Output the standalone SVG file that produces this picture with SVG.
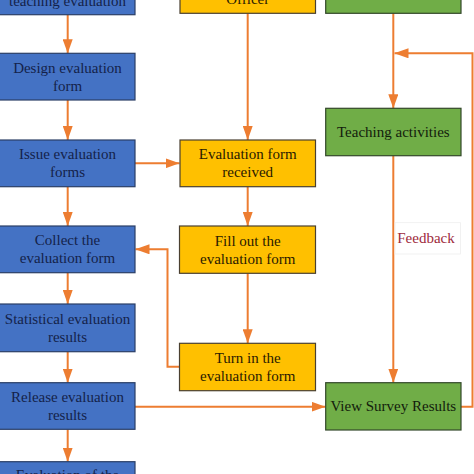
<svg xmlns="http://www.w3.org/2000/svg" width="474" height="474" viewBox="0 0 474 474">
<style>
.blue{fill:#4472C4;stroke:#2B3F66;stroke-width:1.2}
.yel{fill:#FFC000;stroke:#4A4030;stroke-width:1.2}
.grn{fill:#70AD47;stroke:#33482A;stroke-width:1.2}
text{font-family:"Liberation Serif","Times New Roman",serif;font-size:15px;text-anchor:middle}
.tb{fill:#14224A}
.ty{fill:#2A1A00}
.tg{fill:#13200C}
.fb{fill:#9E2A3C}
.c{fill:none;stroke:#ED7D31;stroke-width:2}
</style>
<defs>
<marker id="ah" viewBox="0 0 14 10" refX="14" refY="5" markerWidth="14" markerHeight="10" markerUnits="userSpaceOnUse" orient="auto">
<path d="M0,0 L14,5 L0,10 z" fill="#ED7D31"/>
</marker>
</defs>
<rect x="0" y="0" width="474" height="474" fill="#ffffff"/>
<g id="connectors">
<path class="c" marker-end="url(#ah)" d="M67.7,14.7 V53.3"/>
<path class="c" marker-end="url(#ah)" d="M67.7,100 V140"/>
<path class="c" marker-end="url(#ah)" d="M67.7,186.7 V226"/>
<path class="c" marker-end="url(#ah)" d="M67.7,272.7 V304"/>
<path class="c" marker-end="url(#ah)" d="M67.7,351.7 V382.7"/>
<path class="c" marker-end="url(#ah)" d="M67.7,429.3 V461.7"/>
<path class="c" marker-end="url(#ah)" d="M135,163.3 H179.5"/>
<path class="c" marker-end="url(#ah)" d="M247.7,13.3 V140"/>
<path class="c" marker-end="url(#ah)" d="M247.7,186.7 V226"/>
<path class="c" marker-end="url(#ah)" d="M247.7,273.3 V343.3"/>
<path class="c" marker-end="url(#ah)" d="M180,366.7 H167.5 V249.3 H135.5"/>
<path class="c" marker-end="url(#ah)" d="M135,406.7 H325.5"/>
<path class="c" marker-end="url(#ah)" d="M393.3,13.3 V108.3"/>
<path class="c" marker-end="url(#ah)" d="M393.3,155.7 V382.7"/>
<path class="c" marker-end="url(#ah)" d="M461,406.7 H472.5 V53.3 H394.5"/>
</g>
<g id="n-teaching-evaluation">
<rect class="blue" x="-1" y="-40" width="136" height="54.7"/>
<text class="tb" x="67.5" y="5.5">teaching evaluation</text>
</g>
<g id="n-design">
<rect class="blue" x="-1" y="53.3" width="136" height="46.7"/>
<text class="tb" x="67.5" y="72.7">Design evaluation</text>
<text class="tb" x="67.5" y="90.7">form</text>
</g>
<g id="n-issue">
<rect class="blue" x="-1" y="140" width="136" height="46.7"/>
<text class="tb" x="67.5" y="159.4">Issue evaluation</text>
<text class="tb" x="67.5" y="177.4">forms</text>
</g>
<g id="n-collect">
<rect class="blue" x="-1" y="226" width="136" height="46.7"/>
<text class="tb" x="67.5" y="245.4">Collect the</text>
<text class="tb" x="67.5" y="263.4">evaluation form</text>
</g>
<g id="n-statistical">
<rect class="blue" x="-1" y="304" width="136" height="47.7"/>
<text class="tb" x="67.5" y="323.8">Statistical evaluation</text>
<text class="tb" x="67.5" y="341.8">results</text>
</g>
<g id="n-release">
<rect class="blue" x="-1" y="382.7" width="136" height="46.6"/>
<text class="tb" x="67.5" y="402">Release evaluation</text>
<text class="tb" x="67.5" y="420">results</text>
</g>
<g id="n-evaluation-of">
<rect class="blue" x="-1" y="461.7" width="136" height="40"/>
<text class="tb" x="67.5" y="479.5">Evaluation of the</text>
</g>
<g id="n-officer">
<rect class="yel" x="180" y="-40" width="135.5" height="53.3"/>
<text class="ty" x="247.7" y="4">Officer</text>
</g>
<g id="n-received">
<rect class="yel" x="180" y="140" width="135.5" height="46.7"/>
<text class="ty" x="247.7" y="159.4">Evaluation form</text>
<text class="ty" x="247.7" y="177.4">received</text>
</g>
<g id="n-fill">
<rect class="yel" x="179.5" y="226" width="136" height="47.3"/>
<text class="ty" x="247.7" y="245.6">Fill out the</text>
<text class="ty" x="247.7" y="263.6">evaluation form</text>
</g>
<g id="n-turn">
<rect class="yel" x="179.5" y="343.3" width="136" height="47.4"/>
<text class="ty" x="247.7" y="362.9">Turn in the</text>
<text class="ty" x="247.7" y="380.9">evaluation form</text>
</g>
<g id="n-green-top">
<rect class="grn" x="325.7" y="-40" width="135.3" height="53.3"/>
</g>
<g id="n-teaching">
<rect class="grn" x="325.7" y="108.3" width="135.3" height="47.4"/>
<text class="tg" x="393.3" y="137">Teaching activities</text>
</g>
<g id="n-view">
<rect class="grn" x="325.7" y="382.7" width="135.3" height="47.3"/>
<text class="tg" x="393.3" y="411.3">View Survey Results</text>
</g>
<g id="feedback-label">
<rect x="395" y="222.7" width="65.5" height="31.3" fill="#ffffff" stroke="#EEEEEE" stroke-width="0.8"/>
<text class="fb" x="426" y="242.5">Feedback</text>
</g>
</svg>
